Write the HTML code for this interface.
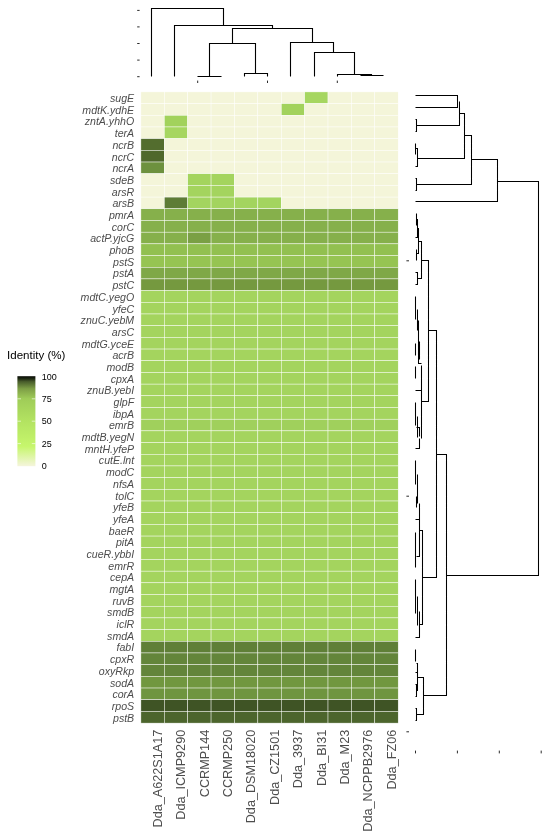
<!DOCTYPE html><html><head><meta charset="utf-8"><title>Heatmap</title><style>html,body{margin:0;padding:0;background:#fff}svg{display:block}text{font-family:"Liberation Sans",sans-serif}</style></head><body>
<svg width="550" height="837" viewBox="0 0 550 837">
<rect width="550" height="837" fill="#fff"/>
<g stroke="#fff" stroke-width="0.45">
<rect x="140.90" y="91.90" width="23.39" height="11.689" fill="#F4F5D9"/>
<rect x="164.29" y="91.90" width="23.39" height="11.689" fill="#F4F5D9"/>
<rect x="187.68" y="91.90" width="23.39" height="11.689" fill="#F4F5D9"/>
<rect x="211.07" y="91.90" width="23.39" height="11.689" fill="#F4F5D9"/>
<rect x="234.46" y="91.90" width="23.39" height="11.689" fill="#F4F5D9"/>
<rect x="257.85" y="91.90" width="23.39" height="11.689" fill="#F4F5D9"/>
<rect x="281.24" y="91.90" width="23.39" height="11.689" fill="#F4F5D9"/>
<rect x="304.63" y="91.90" width="23.39" height="11.689" fill="#A6D660"/>
<rect x="328.02" y="91.90" width="23.39" height="11.689" fill="#F4F5D9"/>
<rect x="351.41" y="91.90" width="23.39" height="11.689" fill="#F4F5D9"/>
<rect x="374.80" y="91.90" width="23.39" height="11.689" fill="#F4F5D9"/>
<rect x="140.90" y="103.59" width="23.39" height="11.689" fill="#F4F5D9"/>
<rect x="164.29" y="103.59" width="23.39" height="11.689" fill="#F4F5D9"/>
<rect x="187.68" y="103.59" width="23.39" height="11.689" fill="#F4F5D9"/>
<rect x="211.07" y="103.59" width="23.39" height="11.689" fill="#F4F5D9"/>
<rect x="234.46" y="103.59" width="23.39" height="11.689" fill="#F4F5D9"/>
<rect x="257.85" y="103.59" width="23.39" height="11.689" fill="#F4F5D9"/>
<rect x="281.24" y="103.59" width="23.39" height="11.689" fill="#A2D25C"/>
<rect x="304.63" y="103.59" width="23.39" height="11.689" fill="#F4F5D9"/>
<rect x="328.02" y="103.59" width="23.39" height="11.689" fill="#F4F5D9"/>
<rect x="351.41" y="103.59" width="23.39" height="11.689" fill="#F4F5D9"/>
<rect x="374.80" y="103.59" width="23.39" height="11.689" fill="#F4F5D9"/>
<rect x="140.90" y="115.28" width="23.39" height="11.689" fill="#F4F5D9"/>
<rect x="164.29" y="115.28" width="23.39" height="11.689" fill="#A2D25C"/>
<rect x="187.68" y="115.28" width="23.39" height="11.689" fill="#F4F5D9"/>
<rect x="211.07" y="115.28" width="23.39" height="11.689" fill="#F4F5D9"/>
<rect x="234.46" y="115.28" width="23.39" height="11.689" fill="#F4F5D9"/>
<rect x="257.85" y="115.28" width="23.39" height="11.689" fill="#F4F5D9"/>
<rect x="281.24" y="115.28" width="23.39" height="11.689" fill="#F4F5D9"/>
<rect x="304.63" y="115.28" width="23.39" height="11.689" fill="#F4F5D9"/>
<rect x="328.02" y="115.28" width="23.39" height="11.689" fill="#F4F5D9"/>
<rect x="351.41" y="115.28" width="23.39" height="11.689" fill="#F4F5D9"/>
<rect x="374.80" y="115.28" width="23.39" height="11.689" fill="#F4F5D9"/>
<rect x="140.90" y="126.97" width="23.39" height="11.689" fill="#F4F5D9"/>
<rect x="164.29" y="126.97" width="23.39" height="11.689" fill="#A6D660"/>
<rect x="187.68" y="126.97" width="23.39" height="11.689" fill="#F4F5D9"/>
<rect x="211.07" y="126.97" width="23.39" height="11.689" fill="#F4F5D9"/>
<rect x="234.46" y="126.97" width="23.39" height="11.689" fill="#F4F5D9"/>
<rect x="257.85" y="126.97" width="23.39" height="11.689" fill="#F4F5D9"/>
<rect x="281.24" y="126.97" width="23.39" height="11.689" fill="#F4F5D9"/>
<rect x="304.63" y="126.97" width="23.39" height="11.689" fill="#F4F5D9"/>
<rect x="328.02" y="126.97" width="23.39" height="11.689" fill="#F4F5D9"/>
<rect x="351.41" y="126.97" width="23.39" height="11.689" fill="#F4F5D9"/>
<rect x="374.80" y="126.97" width="23.39" height="11.689" fill="#F4F5D9"/>
<rect x="140.90" y="138.66" width="23.39" height="11.689" fill="#536D2E"/>
<rect x="164.29" y="138.66" width="23.39" height="11.689" fill="#F4F5D9"/>
<rect x="187.68" y="138.66" width="23.39" height="11.689" fill="#F4F5D9"/>
<rect x="211.07" y="138.66" width="23.39" height="11.689" fill="#F4F5D9"/>
<rect x="234.46" y="138.66" width="23.39" height="11.689" fill="#F4F5D9"/>
<rect x="257.85" y="138.66" width="23.39" height="11.689" fill="#F4F5D9"/>
<rect x="281.24" y="138.66" width="23.39" height="11.689" fill="#F4F5D9"/>
<rect x="304.63" y="138.66" width="23.39" height="11.689" fill="#F4F5D9"/>
<rect x="328.02" y="138.66" width="23.39" height="11.689" fill="#F4F5D9"/>
<rect x="351.41" y="138.66" width="23.39" height="11.689" fill="#F4F5D9"/>
<rect x="374.80" y="138.66" width="23.39" height="11.689" fill="#F4F5D9"/>
<rect x="140.90" y="150.34" width="23.39" height="11.689" fill="#4F682B"/>
<rect x="164.29" y="150.34" width="23.39" height="11.689" fill="#F4F5D9"/>
<rect x="187.68" y="150.34" width="23.39" height="11.689" fill="#F4F5D9"/>
<rect x="211.07" y="150.34" width="23.39" height="11.689" fill="#F4F5D9"/>
<rect x="234.46" y="150.34" width="23.39" height="11.689" fill="#F4F5D9"/>
<rect x="257.85" y="150.34" width="23.39" height="11.689" fill="#F4F5D9"/>
<rect x="281.24" y="150.34" width="23.39" height="11.689" fill="#F4F5D9"/>
<rect x="304.63" y="150.34" width="23.39" height="11.689" fill="#F4F5D9"/>
<rect x="328.02" y="150.34" width="23.39" height="11.689" fill="#F4F5D9"/>
<rect x="351.41" y="150.34" width="23.39" height="11.689" fill="#F4F5D9"/>
<rect x="374.80" y="150.34" width="23.39" height="11.689" fill="#F4F5D9"/>
<rect x="140.90" y="162.03" width="23.39" height="11.689" fill="#6D913E"/>
<rect x="164.29" y="162.03" width="23.39" height="11.689" fill="#F4F5D9"/>
<rect x="187.68" y="162.03" width="23.39" height="11.689" fill="#F4F5D9"/>
<rect x="211.07" y="162.03" width="23.39" height="11.689" fill="#F4F5D9"/>
<rect x="234.46" y="162.03" width="23.39" height="11.689" fill="#F4F5D9"/>
<rect x="257.85" y="162.03" width="23.39" height="11.689" fill="#F4F5D9"/>
<rect x="281.24" y="162.03" width="23.39" height="11.689" fill="#F4F5D9"/>
<rect x="304.63" y="162.03" width="23.39" height="11.689" fill="#F4F5D9"/>
<rect x="328.02" y="162.03" width="23.39" height="11.689" fill="#F4F5D9"/>
<rect x="351.41" y="162.03" width="23.39" height="11.689" fill="#F4F5D9"/>
<rect x="374.80" y="162.03" width="23.39" height="11.689" fill="#F4F5D9"/>
<rect x="140.90" y="173.72" width="23.39" height="11.689" fill="#F4F5D9"/>
<rect x="164.29" y="173.72" width="23.39" height="11.689" fill="#F4F5D9"/>
<rect x="187.68" y="173.72" width="23.39" height="11.689" fill="#A4D45E"/>
<rect x="211.07" y="173.72" width="23.39" height="11.689" fill="#A4D45E"/>
<rect x="234.46" y="173.72" width="23.39" height="11.689" fill="#F4F5D9"/>
<rect x="257.85" y="173.72" width="23.39" height="11.689" fill="#F4F5D9"/>
<rect x="281.24" y="173.72" width="23.39" height="11.689" fill="#F4F5D9"/>
<rect x="304.63" y="173.72" width="23.39" height="11.689" fill="#F4F5D9"/>
<rect x="328.02" y="173.72" width="23.39" height="11.689" fill="#F4F5D9"/>
<rect x="351.41" y="173.72" width="23.39" height="11.689" fill="#F4F5D9"/>
<rect x="374.80" y="173.72" width="23.39" height="11.689" fill="#F4F5D9"/>
<rect x="140.90" y="185.41" width="23.39" height="11.689" fill="#F4F5D9"/>
<rect x="164.29" y="185.41" width="23.39" height="11.689" fill="#F4F5D9"/>
<rect x="187.68" y="185.41" width="23.39" height="11.689" fill="#A4D45E"/>
<rect x="211.07" y="185.41" width="23.39" height="11.689" fill="#A4D45E"/>
<rect x="234.46" y="185.41" width="23.39" height="11.689" fill="#F4F5D9"/>
<rect x="257.85" y="185.41" width="23.39" height="11.689" fill="#F4F5D9"/>
<rect x="281.24" y="185.41" width="23.39" height="11.689" fill="#F4F5D9"/>
<rect x="304.63" y="185.41" width="23.39" height="11.689" fill="#F4F5D9"/>
<rect x="328.02" y="185.41" width="23.39" height="11.689" fill="#F4F5D9"/>
<rect x="351.41" y="185.41" width="23.39" height="11.689" fill="#F4F5D9"/>
<rect x="374.80" y="185.41" width="23.39" height="11.689" fill="#F4F5D9"/>
<rect x="140.90" y="197.10" width="23.39" height="11.689" fill="#F4F5D9"/>
<rect x="164.29" y="197.10" width="23.39" height="11.689" fill="#5E7C36"/>
<rect x="187.68" y="197.10" width="23.39" height="11.689" fill="#A3D45F"/>
<rect x="211.07" y="197.10" width="23.39" height="11.689" fill="#A3D45F"/>
<rect x="234.46" y="197.10" width="23.39" height="11.689" fill="#A3D45F"/>
<rect x="257.85" y="197.10" width="23.39" height="11.689" fill="#A3D45F"/>
<rect x="281.24" y="197.10" width="23.39" height="11.689" fill="#F4F5D9"/>
<rect x="304.63" y="197.10" width="23.39" height="11.689" fill="#F4F5D9"/>
<rect x="328.02" y="197.10" width="23.39" height="11.689" fill="#F4F5D9"/>
<rect x="351.41" y="197.10" width="23.39" height="11.689" fill="#F4F5D9"/>
<rect x="374.80" y="197.10" width="23.39" height="11.689" fill="#F4F5D9"/>
<rect x="140.90" y="208.79" width="23.39" height="11.689" fill="#86B04B"/>
<rect x="164.29" y="208.79" width="23.39" height="11.689" fill="#86B04B"/>
<rect x="187.68" y="208.79" width="23.39" height="11.689" fill="#86B04B"/>
<rect x="211.07" y="208.79" width="23.39" height="11.689" fill="#86B04B"/>
<rect x="234.46" y="208.79" width="23.39" height="11.689" fill="#86B04B"/>
<rect x="257.85" y="208.79" width="23.39" height="11.689" fill="#86B04B"/>
<rect x="281.24" y="208.79" width="23.39" height="11.689" fill="#86B04B"/>
<rect x="304.63" y="208.79" width="23.39" height="11.689" fill="#86B04B"/>
<rect x="328.02" y="208.79" width="23.39" height="11.689" fill="#86B04B"/>
<rect x="351.41" y="208.79" width="23.39" height="11.689" fill="#86B04B"/>
<rect x="374.80" y="208.79" width="23.39" height="11.689" fill="#86B04B"/>
<rect x="140.90" y="220.48" width="23.39" height="11.689" fill="#86B04B"/>
<rect x="164.29" y="220.48" width="23.39" height="11.689" fill="#86B04B"/>
<rect x="187.68" y="220.48" width="23.39" height="11.689" fill="#86B04B"/>
<rect x="211.07" y="220.48" width="23.39" height="11.689" fill="#86B04B"/>
<rect x="234.46" y="220.48" width="23.39" height="11.689" fill="#86B04B"/>
<rect x="257.85" y="220.48" width="23.39" height="11.689" fill="#86B04B"/>
<rect x="281.24" y="220.48" width="23.39" height="11.689" fill="#86B04B"/>
<rect x="304.63" y="220.48" width="23.39" height="11.689" fill="#86B04B"/>
<rect x="328.02" y="220.48" width="23.39" height="11.689" fill="#86B04B"/>
<rect x="351.41" y="220.48" width="23.39" height="11.689" fill="#86B04B"/>
<rect x="374.80" y="220.48" width="23.39" height="11.689" fill="#86B04B"/>
<rect x="140.90" y="232.17" width="23.39" height="11.689" fill="#86B04B"/>
<rect x="164.29" y="232.17" width="23.39" height="11.689" fill="#86B04B"/>
<rect x="187.68" y="232.17" width="23.39" height="11.689" fill="#7AA044"/>
<rect x="211.07" y="232.17" width="23.39" height="11.689" fill="#86B04B"/>
<rect x="234.46" y="232.17" width="23.39" height="11.689" fill="#86B04B"/>
<rect x="257.85" y="232.17" width="23.39" height="11.689" fill="#86B04B"/>
<rect x="281.24" y="232.17" width="23.39" height="11.689" fill="#86B04B"/>
<rect x="304.63" y="232.17" width="23.39" height="11.689" fill="#86B04B"/>
<rect x="328.02" y="232.17" width="23.39" height="11.689" fill="#86B04B"/>
<rect x="351.41" y="232.17" width="23.39" height="11.689" fill="#86B04B"/>
<rect x="374.80" y="232.17" width="23.39" height="11.689" fill="#86B04B"/>
<rect x="140.90" y="243.86" width="23.39" height="11.689" fill="#92C050"/>
<rect x="164.29" y="243.86" width="23.39" height="11.689" fill="#92C050"/>
<rect x="187.68" y="243.86" width="23.39" height="11.689" fill="#92C050"/>
<rect x="211.07" y="243.86" width="23.39" height="11.689" fill="#92C050"/>
<rect x="234.46" y="243.86" width="23.39" height="11.689" fill="#92C050"/>
<rect x="257.85" y="243.86" width="23.39" height="11.689" fill="#92C050"/>
<rect x="281.24" y="243.86" width="23.39" height="11.689" fill="#92C050"/>
<rect x="304.63" y="243.86" width="23.39" height="11.689" fill="#92C050"/>
<rect x="328.02" y="243.86" width="23.39" height="11.689" fill="#92C050"/>
<rect x="351.41" y="243.86" width="23.39" height="11.689" fill="#92C050"/>
<rect x="374.80" y="243.86" width="23.39" height="11.689" fill="#92C050"/>
<rect x="140.90" y="255.55" width="23.39" height="11.689" fill="#96C452"/>
<rect x="164.29" y="255.55" width="23.39" height="11.689" fill="#96C452"/>
<rect x="187.68" y="255.55" width="23.39" height="11.689" fill="#96C452"/>
<rect x="211.07" y="255.55" width="23.39" height="11.689" fill="#96C452"/>
<rect x="234.46" y="255.55" width="23.39" height="11.689" fill="#96C452"/>
<rect x="257.85" y="255.55" width="23.39" height="11.689" fill="#96C452"/>
<rect x="281.24" y="255.55" width="23.39" height="11.689" fill="#96C452"/>
<rect x="304.63" y="255.55" width="23.39" height="11.689" fill="#96C452"/>
<rect x="328.02" y="255.55" width="23.39" height="11.689" fill="#96C452"/>
<rect x="351.41" y="255.55" width="23.39" height="11.689" fill="#96C452"/>
<rect x="374.80" y="255.55" width="23.39" height="11.689" fill="#96C452"/>
<rect x="140.90" y="267.24" width="23.39" height="11.689" fill="#7FA847"/>
<rect x="164.29" y="267.24" width="23.39" height="11.689" fill="#7FA847"/>
<rect x="187.68" y="267.24" width="23.39" height="11.689" fill="#7FA847"/>
<rect x="211.07" y="267.24" width="23.39" height="11.689" fill="#7FA847"/>
<rect x="234.46" y="267.24" width="23.39" height="11.689" fill="#7FA847"/>
<rect x="257.85" y="267.24" width="23.39" height="11.689" fill="#7FA847"/>
<rect x="281.24" y="267.24" width="23.39" height="11.689" fill="#7FA847"/>
<rect x="304.63" y="267.24" width="23.39" height="11.689" fill="#7FA847"/>
<rect x="328.02" y="267.24" width="23.39" height="11.689" fill="#7FA847"/>
<rect x="351.41" y="267.24" width="23.39" height="11.689" fill="#7FA847"/>
<rect x="374.80" y="267.24" width="23.39" height="11.689" fill="#7FA847"/>
<rect x="140.90" y="278.92" width="23.39" height="11.689" fill="#75993F"/>
<rect x="164.29" y="278.92" width="23.39" height="11.689" fill="#75993F"/>
<rect x="187.68" y="278.92" width="23.39" height="11.689" fill="#75993F"/>
<rect x="211.07" y="278.92" width="23.39" height="11.689" fill="#75993F"/>
<rect x="234.46" y="278.92" width="23.39" height="11.689" fill="#75993F"/>
<rect x="257.85" y="278.92" width="23.39" height="11.689" fill="#75993F"/>
<rect x="281.24" y="278.92" width="23.39" height="11.689" fill="#75993F"/>
<rect x="304.63" y="278.92" width="23.39" height="11.689" fill="#75993F"/>
<rect x="328.02" y="278.92" width="23.39" height="11.689" fill="#75993F"/>
<rect x="351.41" y="278.92" width="23.39" height="11.689" fill="#75993F"/>
<rect x="374.80" y="278.92" width="23.39" height="11.689" fill="#75993F"/>
<rect x="140.90" y="290.61" width="23.39" height="11.689" fill="#A4D45E"/>
<rect x="164.29" y="290.61" width="23.39" height="11.689" fill="#A4D45E"/>
<rect x="187.68" y="290.61" width="23.39" height="11.689" fill="#A4D45E"/>
<rect x="211.07" y="290.61" width="23.39" height="11.689" fill="#A4D45E"/>
<rect x="234.46" y="290.61" width="23.39" height="11.689" fill="#A4D45E"/>
<rect x="257.85" y="290.61" width="23.39" height="11.689" fill="#A4D45E"/>
<rect x="281.24" y="290.61" width="23.39" height="11.689" fill="#A4D45E"/>
<rect x="304.63" y="290.61" width="23.39" height="11.689" fill="#A4D45E"/>
<rect x="328.02" y="290.61" width="23.39" height="11.689" fill="#A4D45E"/>
<rect x="351.41" y="290.61" width="23.39" height="11.689" fill="#A4D45E"/>
<rect x="374.80" y="290.61" width="23.39" height="11.689" fill="#A4D45E"/>
<rect x="140.90" y="302.30" width="23.39" height="11.689" fill="#A4D45E"/>
<rect x="164.29" y="302.30" width="23.39" height="11.689" fill="#A4D45E"/>
<rect x="187.68" y="302.30" width="23.39" height="11.689" fill="#A4D45E"/>
<rect x="211.07" y="302.30" width="23.39" height="11.689" fill="#A4D45E"/>
<rect x="234.46" y="302.30" width="23.39" height="11.689" fill="#A4D45E"/>
<rect x="257.85" y="302.30" width="23.39" height="11.689" fill="#A4D45E"/>
<rect x="281.24" y="302.30" width="23.39" height="11.689" fill="#A4D45E"/>
<rect x="304.63" y="302.30" width="23.39" height="11.689" fill="#A4D45E"/>
<rect x="328.02" y="302.30" width="23.39" height="11.689" fill="#A4D45E"/>
<rect x="351.41" y="302.30" width="23.39" height="11.689" fill="#A4D45E"/>
<rect x="374.80" y="302.30" width="23.39" height="11.689" fill="#A4D45E"/>
<rect x="140.90" y="313.99" width="23.39" height="11.689" fill="#A4D45E"/>
<rect x="164.29" y="313.99" width="23.39" height="11.689" fill="#A4D45E"/>
<rect x="187.68" y="313.99" width="23.39" height="11.689" fill="#A4D45E"/>
<rect x="211.07" y="313.99" width="23.39" height="11.689" fill="#A4D45E"/>
<rect x="234.46" y="313.99" width="23.39" height="11.689" fill="#A4D45E"/>
<rect x="257.85" y="313.99" width="23.39" height="11.689" fill="#A4D45E"/>
<rect x="281.24" y="313.99" width="23.39" height="11.689" fill="#A4D45E"/>
<rect x="304.63" y="313.99" width="23.39" height="11.689" fill="#A4D45E"/>
<rect x="328.02" y="313.99" width="23.39" height="11.689" fill="#A4D45E"/>
<rect x="351.41" y="313.99" width="23.39" height="11.689" fill="#A4D45E"/>
<rect x="374.80" y="313.99" width="23.39" height="11.689" fill="#A4D45E"/>
<rect x="140.90" y="325.68" width="23.39" height="11.689" fill="#A4D45E"/>
<rect x="164.29" y="325.68" width="23.39" height="11.689" fill="#A4D45E"/>
<rect x="187.68" y="325.68" width="23.39" height="11.689" fill="#A4D45E"/>
<rect x="211.07" y="325.68" width="23.39" height="11.689" fill="#A4D45E"/>
<rect x="234.46" y="325.68" width="23.39" height="11.689" fill="#A4D45E"/>
<rect x="257.85" y="325.68" width="23.39" height="11.689" fill="#A4D45E"/>
<rect x="281.24" y="325.68" width="23.39" height="11.689" fill="#A4D45E"/>
<rect x="304.63" y="325.68" width="23.39" height="11.689" fill="#A4D45E"/>
<rect x="328.02" y="325.68" width="23.39" height="11.689" fill="#A4D45E"/>
<rect x="351.41" y="325.68" width="23.39" height="11.689" fill="#A4D45E"/>
<rect x="374.80" y="325.68" width="23.39" height="11.689" fill="#A4D45E"/>
<rect x="140.90" y="337.37" width="23.39" height="11.689" fill="#A4D45E"/>
<rect x="164.29" y="337.37" width="23.39" height="11.689" fill="#A4D45E"/>
<rect x="187.68" y="337.37" width="23.39" height="11.689" fill="#A4D45E"/>
<rect x="211.07" y="337.37" width="23.39" height="11.689" fill="#A4D45E"/>
<rect x="234.46" y="337.37" width="23.39" height="11.689" fill="#A4D45E"/>
<rect x="257.85" y="337.37" width="23.39" height="11.689" fill="#A4D45E"/>
<rect x="281.24" y="337.37" width="23.39" height="11.689" fill="#A4D45E"/>
<rect x="304.63" y="337.37" width="23.39" height="11.689" fill="#A4D45E"/>
<rect x="328.02" y="337.37" width="23.39" height="11.689" fill="#A4D45E"/>
<rect x="351.41" y="337.37" width="23.39" height="11.689" fill="#A4D45E"/>
<rect x="374.80" y="337.37" width="23.39" height="11.689" fill="#A4D45E"/>
<rect x="140.90" y="349.06" width="23.39" height="11.689" fill="#A4D45E"/>
<rect x="164.29" y="349.06" width="23.39" height="11.689" fill="#A4D45E"/>
<rect x="187.68" y="349.06" width="23.39" height="11.689" fill="#A4D45E"/>
<rect x="211.07" y="349.06" width="23.39" height="11.689" fill="#A4D45E"/>
<rect x="234.46" y="349.06" width="23.39" height="11.689" fill="#A4D45E"/>
<rect x="257.85" y="349.06" width="23.39" height="11.689" fill="#A4D45E"/>
<rect x="281.24" y="349.06" width="23.39" height="11.689" fill="#A4D45E"/>
<rect x="304.63" y="349.06" width="23.39" height="11.689" fill="#A4D45E"/>
<rect x="328.02" y="349.06" width="23.39" height="11.689" fill="#A4D45E"/>
<rect x="351.41" y="349.06" width="23.39" height="11.689" fill="#A4D45E"/>
<rect x="374.80" y="349.06" width="23.39" height="11.689" fill="#A4D45E"/>
<rect x="140.90" y="360.75" width="23.39" height="11.689" fill="#A4D45E"/>
<rect x="164.29" y="360.75" width="23.39" height="11.689" fill="#A4D45E"/>
<rect x="187.68" y="360.75" width="23.39" height="11.689" fill="#A4D45E"/>
<rect x="211.07" y="360.75" width="23.39" height="11.689" fill="#A4D45E"/>
<rect x="234.46" y="360.75" width="23.39" height="11.689" fill="#A4D45E"/>
<rect x="257.85" y="360.75" width="23.39" height="11.689" fill="#A4D45E"/>
<rect x="281.24" y="360.75" width="23.39" height="11.689" fill="#A4D45E"/>
<rect x="304.63" y="360.75" width="23.39" height="11.689" fill="#A4D45E"/>
<rect x="328.02" y="360.75" width="23.39" height="11.689" fill="#A4D45E"/>
<rect x="351.41" y="360.75" width="23.39" height="11.689" fill="#A4D45E"/>
<rect x="374.80" y="360.75" width="23.39" height="11.689" fill="#A4D45E"/>
<rect x="140.90" y="372.44" width="23.39" height="11.689" fill="#A4D45E"/>
<rect x="164.29" y="372.44" width="23.39" height="11.689" fill="#A4D45E"/>
<rect x="187.68" y="372.44" width="23.39" height="11.689" fill="#A4D45E"/>
<rect x="211.07" y="372.44" width="23.39" height="11.689" fill="#A4D45E"/>
<rect x="234.46" y="372.44" width="23.39" height="11.689" fill="#A4D45E"/>
<rect x="257.85" y="372.44" width="23.39" height="11.689" fill="#A4D45E"/>
<rect x="281.24" y="372.44" width="23.39" height="11.689" fill="#A4D45E"/>
<rect x="304.63" y="372.44" width="23.39" height="11.689" fill="#A4D45E"/>
<rect x="328.02" y="372.44" width="23.39" height="11.689" fill="#A4D45E"/>
<rect x="351.41" y="372.44" width="23.39" height="11.689" fill="#A4D45E"/>
<rect x="374.80" y="372.44" width="23.39" height="11.689" fill="#A4D45E"/>
<rect x="140.90" y="384.12" width="23.39" height="11.689" fill="#A4D45E"/>
<rect x="164.29" y="384.12" width="23.39" height="11.689" fill="#A4D45E"/>
<rect x="187.68" y="384.12" width="23.39" height="11.689" fill="#A4D45E"/>
<rect x="211.07" y="384.12" width="23.39" height="11.689" fill="#A4D45E"/>
<rect x="234.46" y="384.12" width="23.39" height="11.689" fill="#A4D45E"/>
<rect x="257.85" y="384.12" width="23.39" height="11.689" fill="#A4D45E"/>
<rect x="281.24" y="384.12" width="23.39" height="11.689" fill="#A4D45E"/>
<rect x="304.63" y="384.12" width="23.39" height="11.689" fill="#A4D45E"/>
<rect x="328.02" y="384.12" width="23.39" height="11.689" fill="#A4D45E"/>
<rect x="351.41" y="384.12" width="23.39" height="11.689" fill="#A4D45E"/>
<rect x="374.80" y="384.12" width="23.39" height="11.689" fill="#A4D45E"/>
<rect x="140.90" y="395.81" width="23.39" height="11.689" fill="#A4D45E"/>
<rect x="164.29" y="395.81" width="23.39" height="11.689" fill="#A4D45E"/>
<rect x="187.68" y="395.81" width="23.39" height="11.689" fill="#A4D45E"/>
<rect x="211.07" y="395.81" width="23.39" height="11.689" fill="#A4D45E"/>
<rect x="234.46" y="395.81" width="23.39" height="11.689" fill="#A4D45E"/>
<rect x="257.85" y="395.81" width="23.39" height="11.689" fill="#A4D45E"/>
<rect x="281.24" y="395.81" width="23.39" height="11.689" fill="#A4D45E"/>
<rect x="304.63" y="395.81" width="23.39" height="11.689" fill="#A4D45E"/>
<rect x="328.02" y="395.81" width="23.39" height="11.689" fill="#A4D45E"/>
<rect x="351.41" y="395.81" width="23.39" height="11.689" fill="#A4D45E"/>
<rect x="374.80" y="395.81" width="23.39" height="11.689" fill="#A4D45E"/>
<rect x="140.90" y="407.50" width="23.39" height="11.689" fill="#A4D45E"/>
<rect x="164.29" y="407.50" width="23.39" height="11.689" fill="#A4D45E"/>
<rect x="187.68" y="407.50" width="23.39" height="11.689" fill="#A4D45E"/>
<rect x="211.07" y="407.50" width="23.39" height="11.689" fill="#A4D45E"/>
<rect x="234.46" y="407.50" width="23.39" height="11.689" fill="#A4D45E"/>
<rect x="257.85" y="407.50" width="23.39" height="11.689" fill="#A4D45E"/>
<rect x="281.24" y="407.50" width="23.39" height="11.689" fill="#A4D45E"/>
<rect x="304.63" y="407.50" width="23.39" height="11.689" fill="#A4D45E"/>
<rect x="328.02" y="407.50" width="23.39" height="11.689" fill="#A4D45E"/>
<rect x="351.41" y="407.50" width="23.39" height="11.689" fill="#A4D45E"/>
<rect x="374.80" y="407.50" width="23.39" height="11.689" fill="#A4D45E"/>
<rect x="140.90" y="419.19" width="23.39" height="11.689" fill="#A0D05C"/>
<rect x="164.29" y="419.19" width="23.39" height="11.689" fill="#A0D05C"/>
<rect x="187.68" y="419.19" width="23.39" height="11.689" fill="#A0D05C"/>
<rect x="211.07" y="419.19" width="23.39" height="11.689" fill="#A0D05C"/>
<rect x="234.46" y="419.19" width="23.39" height="11.689" fill="#A0D05C"/>
<rect x="257.85" y="419.19" width="23.39" height="11.689" fill="#A0D05C"/>
<rect x="281.24" y="419.19" width="23.39" height="11.689" fill="#A0D05C"/>
<rect x="304.63" y="419.19" width="23.39" height="11.689" fill="#A0D05C"/>
<rect x="328.02" y="419.19" width="23.39" height="11.689" fill="#A0D05C"/>
<rect x="351.41" y="419.19" width="23.39" height="11.689" fill="#A0D05C"/>
<rect x="374.80" y="419.19" width="23.39" height="11.689" fill="#A0D05C"/>
<rect x="140.90" y="430.88" width="23.39" height="11.689" fill="#A4D45E"/>
<rect x="164.29" y="430.88" width="23.39" height="11.689" fill="#A4D45E"/>
<rect x="187.68" y="430.88" width="23.39" height="11.689" fill="#A4D45E"/>
<rect x="211.07" y="430.88" width="23.39" height="11.689" fill="#A4D45E"/>
<rect x="234.46" y="430.88" width="23.39" height="11.689" fill="#A4D45E"/>
<rect x="257.85" y="430.88" width="23.39" height="11.689" fill="#A4D45E"/>
<rect x="281.24" y="430.88" width="23.39" height="11.689" fill="#A4D45E"/>
<rect x="304.63" y="430.88" width="23.39" height="11.689" fill="#A4D45E"/>
<rect x="328.02" y="430.88" width="23.39" height="11.689" fill="#A4D45E"/>
<rect x="351.41" y="430.88" width="23.39" height="11.689" fill="#A4D45E"/>
<rect x="374.80" y="430.88" width="23.39" height="11.689" fill="#A4D45E"/>
<rect x="140.90" y="442.57" width="23.39" height="11.689" fill="#A4D45E"/>
<rect x="164.29" y="442.57" width="23.39" height="11.689" fill="#A4D45E"/>
<rect x="187.68" y="442.57" width="23.39" height="11.689" fill="#A4D45E"/>
<rect x="211.07" y="442.57" width="23.39" height="11.689" fill="#A4D45E"/>
<rect x="234.46" y="442.57" width="23.39" height="11.689" fill="#A4D45E"/>
<rect x="257.85" y="442.57" width="23.39" height="11.689" fill="#A4D45E"/>
<rect x="281.24" y="442.57" width="23.39" height="11.689" fill="#A4D45E"/>
<rect x="304.63" y="442.57" width="23.39" height="11.689" fill="#A4D45E"/>
<rect x="328.02" y="442.57" width="23.39" height="11.689" fill="#A4D45E"/>
<rect x="351.41" y="442.57" width="23.39" height="11.689" fill="#A4D45E"/>
<rect x="374.80" y="442.57" width="23.39" height="11.689" fill="#A4D45E"/>
<rect x="140.90" y="454.26" width="23.39" height="11.689" fill="#A4D45E"/>
<rect x="164.29" y="454.26" width="23.39" height="11.689" fill="#A4D45E"/>
<rect x="187.68" y="454.26" width="23.39" height="11.689" fill="#A4D45E"/>
<rect x="211.07" y="454.26" width="23.39" height="11.689" fill="#A4D45E"/>
<rect x="234.46" y="454.26" width="23.39" height="11.689" fill="#A4D45E"/>
<rect x="257.85" y="454.26" width="23.39" height="11.689" fill="#A4D45E"/>
<rect x="281.24" y="454.26" width="23.39" height="11.689" fill="#A4D45E"/>
<rect x="304.63" y="454.26" width="23.39" height="11.689" fill="#A4D45E"/>
<rect x="328.02" y="454.26" width="23.39" height="11.689" fill="#A4D45E"/>
<rect x="351.41" y="454.26" width="23.39" height="11.689" fill="#A4D45E"/>
<rect x="374.80" y="454.26" width="23.39" height="11.689" fill="#A4D45E"/>
<rect x="140.90" y="465.95" width="23.39" height="11.689" fill="#A4D45E"/>
<rect x="164.29" y="465.95" width="23.39" height="11.689" fill="#A4D45E"/>
<rect x="187.68" y="465.95" width="23.39" height="11.689" fill="#A4D45E"/>
<rect x="211.07" y="465.95" width="23.39" height="11.689" fill="#A4D45E"/>
<rect x="234.46" y="465.95" width="23.39" height="11.689" fill="#A4D45E"/>
<rect x="257.85" y="465.95" width="23.39" height="11.689" fill="#A4D45E"/>
<rect x="281.24" y="465.95" width="23.39" height="11.689" fill="#A4D45E"/>
<rect x="304.63" y="465.95" width="23.39" height="11.689" fill="#A4D45E"/>
<rect x="328.02" y="465.95" width="23.39" height="11.689" fill="#A4D45E"/>
<rect x="351.41" y="465.95" width="23.39" height="11.689" fill="#A4D45E"/>
<rect x="374.80" y="465.95" width="23.39" height="11.689" fill="#A4D45E"/>
<rect x="140.90" y="477.64" width="23.39" height="11.689" fill="#A4D45E"/>
<rect x="164.29" y="477.64" width="23.39" height="11.689" fill="#A4D45E"/>
<rect x="187.68" y="477.64" width="23.39" height="11.689" fill="#A4D45E"/>
<rect x="211.07" y="477.64" width="23.39" height="11.689" fill="#A4D45E"/>
<rect x="234.46" y="477.64" width="23.39" height="11.689" fill="#A4D45E"/>
<rect x="257.85" y="477.64" width="23.39" height="11.689" fill="#A4D45E"/>
<rect x="281.24" y="477.64" width="23.39" height="11.689" fill="#A4D45E"/>
<rect x="304.63" y="477.64" width="23.39" height="11.689" fill="#A4D45E"/>
<rect x="328.02" y="477.64" width="23.39" height="11.689" fill="#A4D45E"/>
<rect x="351.41" y="477.64" width="23.39" height="11.689" fill="#A4D45E"/>
<rect x="374.80" y="477.64" width="23.39" height="11.689" fill="#A4D45E"/>
<rect x="140.90" y="489.33" width="23.39" height="11.689" fill="#A4D45E"/>
<rect x="164.29" y="489.33" width="23.39" height="11.689" fill="#A4D45E"/>
<rect x="187.68" y="489.33" width="23.39" height="11.689" fill="#A4D45E"/>
<rect x="211.07" y="489.33" width="23.39" height="11.689" fill="#A4D45E"/>
<rect x="234.46" y="489.33" width="23.39" height="11.689" fill="#A4D45E"/>
<rect x="257.85" y="489.33" width="23.39" height="11.689" fill="#A4D45E"/>
<rect x="281.24" y="489.33" width="23.39" height="11.689" fill="#A4D45E"/>
<rect x="304.63" y="489.33" width="23.39" height="11.689" fill="#A4D45E"/>
<rect x="328.02" y="489.33" width="23.39" height="11.689" fill="#A4D45E"/>
<rect x="351.41" y="489.33" width="23.39" height="11.689" fill="#A4D45E"/>
<rect x="374.80" y="489.33" width="23.39" height="11.689" fill="#A4D45E"/>
<rect x="140.90" y="501.01" width="23.39" height="11.689" fill="#A4D45E"/>
<rect x="164.29" y="501.01" width="23.39" height="11.689" fill="#A4D45E"/>
<rect x="187.68" y="501.01" width="23.39" height="11.689" fill="#A4D45E"/>
<rect x="211.07" y="501.01" width="23.39" height="11.689" fill="#A4D45E"/>
<rect x="234.46" y="501.01" width="23.39" height="11.689" fill="#A4D45E"/>
<rect x="257.85" y="501.01" width="23.39" height="11.689" fill="#A4D45E"/>
<rect x="281.24" y="501.01" width="23.39" height="11.689" fill="#A4D45E"/>
<rect x="304.63" y="501.01" width="23.39" height="11.689" fill="#A4D45E"/>
<rect x="328.02" y="501.01" width="23.39" height="11.689" fill="#A4D45E"/>
<rect x="351.41" y="501.01" width="23.39" height="11.689" fill="#A4D45E"/>
<rect x="374.80" y="501.01" width="23.39" height="11.689" fill="#A4D45E"/>
<rect x="140.90" y="512.70" width="23.39" height="11.689" fill="#A4D45E"/>
<rect x="164.29" y="512.70" width="23.39" height="11.689" fill="#A4D45E"/>
<rect x="187.68" y="512.70" width="23.39" height="11.689" fill="#A4D45E"/>
<rect x="211.07" y="512.70" width="23.39" height="11.689" fill="#A4D45E"/>
<rect x="234.46" y="512.70" width="23.39" height="11.689" fill="#A4D45E"/>
<rect x="257.85" y="512.70" width="23.39" height="11.689" fill="#A4D45E"/>
<rect x="281.24" y="512.70" width="23.39" height="11.689" fill="#A4D45E"/>
<rect x="304.63" y="512.70" width="23.39" height="11.689" fill="#A4D45E"/>
<rect x="328.02" y="512.70" width="23.39" height="11.689" fill="#A4D45E"/>
<rect x="351.41" y="512.70" width="23.39" height="11.689" fill="#A4D45E"/>
<rect x="374.80" y="512.70" width="23.39" height="11.689" fill="#A4D45E"/>
<rect x="140.90" y="524.39" width="23.39" height="11.689" fill="#A4D45E"/>
<rect x="164.29" y="524.39" width="23.39" height="11.689" fill="#A4D45E"/>
<rect x="187.68" y="524.39" width="23.39" height="11.689" fill="#A4D45E"/>
<rect x="211.07" y="524.39" width="23.39" height="11.689" fill="#A4D45E"/>
<rect x="234.46" y="524.39" width="23.39" height="11.689" fill="#A4D45E"/>
<rect x="257.85" y="524.39" width="23.39" height="11.689" fill="#A4D45E"/>
<rect x="281.24" y="524.39" width="23.39" height="11.689" fill="#A4D45E"/>
<rect x="304.63" y="524.39" width="23.39" height="11.689" fill="#A4D45E"/>
<rect x="328.02" y="524.39" width="23.39" height="11.689" fill="#A4D45E"/>
<rect x="351.41" y="524.39" width="23.39" height="11.689" fill="#A4D45E"/>
<rect x="374.80" y="524.39" width="23.39" height="11.689" fill="#A4D45E"/>
<rect x="140.90" y="536.08" width="23.39" height="11.689" fill="#A4D45E"/>
<rect x="164.29" y="536.08" width="23.39" height="11.689" fill="#A4D45E"/>
<rect x="187.68" y="536.08" width="23.39" height="11.689" fill="#A4D45E"/>
<rect x="211.07" y="536.08" width="23.39" height="11.689" fill="#A4D45E"/>
<rect x="234.46" y="536.08" width="23.39" height="11.689" fill="#A4D45E"/>
<rect x="257.85" y="536.08" width="23.39" height="11.689" fill="#A4D45E"/>
<rect x="281.24" y="536.08" width="23.39" height="11.689" fill="#A4D45E"/>
<rect x="304.63" y="536.08" width="23.39" height="11.689" fill="#A4D45E"/>
<rect x="328.02" y="536.08" width="23.39" height="11.689" fill="#A4D45E"/>
<rect x="351.41" y="536.08" width="23.39" height="11.689" fill="#A4D45E"/>
<rect x="374.80" y="536.08" width="23.39" height="11.689" fill="#A4D45E"/>
<rect x="140.90" y="547.77" width="23.39" height="11.689" fill="#A4D45E"/>
<rect x="164.29" y="547.77" width="23.39" height="11.689" fill="#A4D45E"/>
<rect x="187.68" y="547.77" width="23.39" height="11.689" fill="#A4D45E"/>
<rect x="211.07" y="547.77" width="23.39" height="11.689" fill="#A4D45E"/>
<rect x="234.46" y="547.77" width="23.39" height="11.689" fill="#A4D45E"/>
<rect x="257.85" y="547.77" width="23.39" height="11.689" fill="#A4D45E"/>
<rect x="281.24" y="547.77" width="23.39" height="11.689" fill="#A4D45E"/>
<rect x="304.63" y="547.77" width="23.39" height="11.689" fill="#A4D45E"/>
<rect x="328.02" y="547.77" width="23.39" height="11.689" fill="#A4D45E"/>
<rect x="351.41" y="547.77" width="23.39" height="11.689" fill="#A4D45E"/>
<rect x="374.80" y="547.77" width="23.39" height="11.689" fill="#A4D45E"/>
<rect x="140.90" y="559.46" width="23.39" height="11.689" fill="#A4D45E"/>
<rect x="164.29" y="559.46" width="23.39" height="11.689" fill="#A4D45E"/>
<rect x="187.68" y="559.46" width="23.39" height="11.689" fill="#A4D45E"/>
<rect x="211.07" y="559.46" width="23.39" height="11.689" fill="#A4D45E"/>
<rect x="234.46" y="559.46" width="23.39" height="11.689" fill="#A4D45E"/>
<rect x="257.85" y="559.46" width="23.39" height="11.689" fill="#A4D45E"/>
<rect x="281.24" y="559.46" width="23.39" height="11.689" fill="#A4D45E"/>
<rect x="304.63" y="559.46" width="23.39" height="11.689" fill="#A4D45E"/>
<rect x="328.02" y="559.46" width="23.39" height="11.689" fill="#A4D45E"/>
<rect x="351.41" y="559.46" width="23.39" height="11.689" fill="#A4D45E"/>
<rect x="374.80" y="559.46" width="23.39" height="11.689" fill="#A4D45E"/>
<rect x="140.90" y="571.15" width="23.39" height="11.689" fill="#A4D45E"/>
<rect x="164.29" y="571.15" width="23.39" height="11.689" fill="#A4D45E"/>
<rect x="187.68" y="571.15" width="23.39" height="11.689" fill="#A4D45E"/>
<rect x="211.07" y="571.15" width="23.39" height="11.689" fill="#A4D45E"/>
<rect x="234.46" y="571.15" width="23.39" height="11.689" fill="#A4D45E"/>
<rect x="257.85" y="571.15" width="23.39" height="11.689" fill="#A4D45E"/>
<rect x="281.24" y="571.15" width="23.39" height="11.689" fill="#A4D45E"/>
<rect x="304.63" y="571.15" width="23.39" height="11.689" fill="#A4D45E"/>
<rect x="328.02" y="571.15" width="23.39" height="11.689" fill="#A4D45E"/>
<rect x="351.41" y="571.15" width="23.39" height="11.689" fill="#A4D45E"/>
<rect x="374.80" y="571.15" width="23.39" height="11.689" fill="#A4D45E"/>
<rect x="140.90" y="582.84" width="23.39" height="11.689" fill="#A4D45E"/>
<rect x="164.29" y="582.84" width="23.39" height="11.689" fill="#A4D45E"/>
<rect x="187.68" y="582.84" width="23.39" height="11.689" fill="#A4D45E"/>
<rect x="211.07" y="582.84" width="23.39" height="11.689" fill="#A4D45E"/>
<rect x="234.46" y="582.84" width="23.39" height="11.689" fill="#A4D45E"/>
<rect x="257.85" y="582.84" width="23.39" height="11.689" fill="#A4D45E"/>
<rect x="281.24" y="582.84" width="23.39" height="11.689" fill="#A4D45E"/>
<rect x="304.63" y="582.84" width="23.39" height="11.689" fill="#A4D45E"/>
<rect x="328.02" y="582.84" width="23.39" height="11.689" fill="#A4D45E"/>
<rect x="351.41" y="582.84" width="23.39" height="11.689" fill="#A4D45E"/>
<rect x="374.80" y="582.84" width="23.39" height="11.689" fill="#A4D45E"/>
<rect x="140.90" y="594.53" width="23.39" height="11.689" fill="#A4D45E"/>
<rect x="164.29" y="594.53" width="23.39" height="11.689" fill="#A4D45E"/>
<rect x="187.68" y="594.53" width="23.39" height="11.689" fill="#A4D45E"/>
<rect x="211.07" y="594.53" width="23.39" height="11.689" fill="#A4D45E"/>
<rect x="234.46" y="594.53" width="23.39" height="11.689" fill="#A4D45E"/>
<rect x="257.85" y="594.53" width="23.39" height="11.689" fill="#A4D45E"/>
<rect x="281.24" y="594.53" width="23.39" height="11.689" fill="#A4D45E"/>
<rect x="304.63" y="594.53" width="23.39" height="11.689" fill="#A4D45E"/>
<rect x="328.02" y="594.53" width="23.39" height="11.689" fill="#A4D45E"/>
<rect x="351.41" y="594.53" width="23.39" height="11.689" fill="#A4D45E"/>
<rect x="374.80" y="594.53" width="23.39" height="11.689" fill="#A4D45E"/>
<rect x="140.90" y="606.22" width="23.39" height="11.689" fill="#A4D45E"/>
<rect x="164.29" y="606.22" width="23.39" height="11.689" fill="#A4D45E"/>
<rect x="187.68" y="606.22" width="23.39" height="11.689" fill="#A4D45E"/>
<rect x="211.07" y="606.22" width="23.39" height="11.689" fill="#A4D45E"/>
<rect x="234.46" y="606.22" width="23.39" height="11.689" fill="#A4D45E"/>
<rect x="257.85" y="606.22" width="23.39" height="11.689" fill="#A4D45E"/>
<rect x="281.24" y="606.22" width="23.39" height="11.689" fill="#A4D45E"/>
<rect x="304.63" y="606.22" width="23.39" height="11.689" fill="#A4D45E"/>
<rect x="328.02" y="606.22" width="23.39" height="11.689" fill="#A4D45E"/>
<rect x="351.41" y="606.22" width="23.39" height="11.689" fill="#A4D45E"/>
<rect x="374.80" y="606.22" width="23.39" height="11.689" fill="#A4D45E"/>
<rect x="140.90" y="617.90" width="23.39" height="11.689" fill="#A4D45E"/>
<rect x="164.29" y="617.90" width="23.39" height="11.689" fill="#A4D45E"/>
<rect x="187.68" y="617.90" width="23.39" height="11.689" fill="#A4D45E"/>
<rect x="211.07" y="617.90" width="23.39" height="11.689" fill="#A4D45E"/>
<rect x="234.46" y="617.90" width="23.39" height="11.689" fill="#A4D45E"/>
<rect x="257.85" y="617.90" width="23.39" height="11.689" fill="#A4D45E"/>
<rect x="281.24" y="617.90" width="23.39" height="11.689" fill="#A4D45E"/>
<rect x="304.63" y="617.90" width="23.39" height="11.689" fill="#A4D45E"/>
<rect x="328.02" y="617.90" width="23.39" height="11.689" fill="#A4D45E"/>
<rect x="351.41" y="617.90" width="23.39" height="11.689" fill="#A4D45E"/>
<rect x="374.80" y="617.90" width="23.39" height="11.689" fill="#A4D45E"/>
<rect x="140.90" y="629.59" width="23.39" height="11.689" fill="#A4D45E"/>
<rect x="164.29" y="629.59" width="23.39" height="11.689" fill="#A4D45E"/>
<rect x="187.68" y="629.59" width="23.39" height="11.689" fill="#A4D45E"/>
<rect x="211.07" y="629.59" width="23.39" height="11.689" fill="#A4D45E"/>
<rect x="234.46" y="629.59" width="23.39" height="11.689" fill="#A4D45E"/>
<rect x="257.85" y="629.59" width="23.39" height="11.689" fill="#A4D45E"/>
<rect x="281.24" y="629.59" width="23.39" height="11.689" fill="#A4D45E"/>
<rect x="304.63" y="629.59" width="23.39" height="11.689" fill="#A4D45E"/>
<rect x="328.02" y="629.59" width="23.39" height="11.689" fill="#A4D45E"/>
<rect x="351.41" y="629.59" width="23.39" height="11.689" fill="#A4D45E"/>
<rect x="374.80" y="629.59" width="23.39" height="11.689" fill="#A4D45E"/>
<rect x="140.90" y="641.28" width="23.39" height="11.689" fill="#5F7F37"/>
<rect x="164.29" y="641.28" width="23.39" height="11.689" fill="#5F7F37"/>
<rect x="187.68" y="641.28" width="23.39" height="11.689" fill="#5F7F37"/>
<rect x="211.07" y="641.28" width="23.39" height="11.689" fill="#5F7F37"/>
<rect x="234.46" y="641.28" width="23.39" height="11.689" fill="#5F7F37"/>
<rect x="257.85" y="641.28" width="23.39" height="11.689" fill="#5F7F37"/>
<rect x="281.24" y="641.28" width="23.39" height="11.689" fill="#5F7F37"/>
<rect x="304.63" y="641.28" width="23.39" height="11.689" fill="#5F7F37"/>
<rect x="328.02" y="641.28" width="23.39" height="11.689" fill="#5F7F37"/>
<rect x="351.41" y="641.28" width="23.39" height="11.689" fill="#5F7F37"/>
<rect x="374.80" y="641.28" width="23.39" height="11.689" fill="#5F7F37"/>
<rect x="140.90" y="652.97" width="23.39" height="11.689" fill="#63853A"/>
<rect x="164.29" y="652.97" width="23.39" height="11.689" fill="#63853A"/>
<rect x="187.68" y="652.97" width="23.39" height="11.689" fill="#63853A"/>
<rect x="211.07" y="652.97" width="23.39" height="11.689" fill="#63853A"/>
<rect x="234.46" y="652.97" width="23.39" height="11.689" fill="#63853A"/>
<rect x="257.85" y="652.97" width="23.39" height="11.689" fill="#63853A"/>
<rect x="281.24" y="652.97" width="23.39" height="11.689" fill="#63853A"/>
<rect x="304.63" y="652.97" width="23.39" height="11.689" fill="#63853A"/>
<rect x="328.02" y="652.97" width="23.39" height="11.689" fill="#63853A"/>
<rect x="351.41" y="652.97" width="23.39" height="11.689" fill="#63853A"/>
<rect x="374.80" y="652.97" width="23.39" height="11.689" fill="#63853A"/>
<rect x="140.90" y="664.66" width="23.39" height="11.689" fill="#63853A"/>
<rect x="164.29" y="664.66" width="23.39" height="11.689" fill="#63853A"/>
<rect x="187.68" y="664.66" width="23.39" height="11.689" fill="#63853A"/>
<rect x="211.07" y="664.66" width="23.39" height="11.689" fill="#63853A"/>
<rect x="234.46" y="664.66" width="23.39" height="11.689" fill="#63853A"/>
<rect x="257.85" y="664.66" width="23.39" height="11.689" fill="#63853A"/>
<rect x="281.24" y="664.66" width="23.39" height="11.689" fill="#63853A"/>
<rect x="304.63" y="664.66" width="23.39" height="11.689" fill="#63853A"/>
<rect x="328.02" y="664.66" width="23.39" height="11.689" fill="#63853A"/>
<rect x="351.41" y="664.66" width="23.39" height="11.689" fill="#63853A"/>
<rect x="374.80" y="664.66" width="23.39" height="11.689" fill="#63853A"/>
<rect x="140.90" y="676.35" width="23.39" height="11.689" fill="#71973F"/>
<rect x="164.29" y="676.35" width="23.39" height="11.689" fill="#71973F"/>
<rect x="187.68" y="676.35" width="23.39" height="11.689" fill="#71973F"/>
<rect x="211.07" y="676.35" width="23.39" height="11.689" fill="#71973F"/>
<rect x="234.46" y="676.35" width="23.39" height="11.689" fill="#71973F"/>
<rect x="257.85" y="676.35" width="23.39" height="11.689" fill="#71973F"/>
<rect x="281.24" y="676.35" width="23.39" height="11.689" fill="#71973F"/>
<rect x="304.63" y="676.35" width="23.39" height="11.689" fill="#71973F"/>
<rect x="328.02" y="676.35" width="23.39" height="11.689" fill="#71973F"/>
<rect x="351.41" y="676.35" width="23.39" height="11.689" fill="#71973F"/>
<rect x="374.80" y="676.35" width="23.39" height="11.689" fill="#71973F"/>
<rect x="140.90" y="688.04" width="23.39" height="11.689" fill="#6F953F"/>
<rect x="164.29" y="688.04" width="23.39" height="11.689" fill="#6F953F"/>
<rect x="187.68" y="688.04" width="23.39" height="11.689" fill="#6F953F"/>
<rect x="211.07" y="688.04" width="23.39" height="11.689" fill="#6F953F"/>
<rect x="234.46" y="688.04" width="23.39" height="11.689" fill="#6F953F"/>
<rect x="257.85" y="688.04" width="23.39" height="11.689" fill="#6F953F"/>
<rect x="281.24" y="688.04" width="23.39" height="11.689" fill="#6F953F"/>
<rect x="304.63" y="688.04" width="23.39" height="11.689" fill="#6F953F"/>
<rect x="328.02" y="688.04" width="23.39" height="11.689" fill="#6F953F"/>
<rect x="351.41" y="688.04" width="23.39" height="11.689" fill="#6F953F"/>
<rect x="374.80" y="688.04" width="23.39" height="11.689" fill="#6F953F"/>
<rect x="140.90" y="699.73" width="23.39" height="11.689" fill="#3F5425"/>
<rect x="164.29" y="699.73" width="23.39" height="11.689" fill="#3F5425"/>
<rect x="187.68" y="699.73" width="23.39" height="11.689" fill="#3F5425"/>
<rect x="211.07" y="699.73" width="23.39" height="11.689" fill="#3F5425"/>
<rect x="234.46" y="699.73" width="23.39" height="11.689" fill="#3F5425"/>
<rect x="257.85" y="699.73" width="23.39" height="11.689" fill="#3F5425"/>
<rect x="281.24" y="699.73" width="23.39" height="11.689" fill="#3F5425"/>
<rect x="304.63" y="699.73" width="23.39" height="11.689" fill="#3F5425"/>
<rect x="328.02" y="699.73" width="23.39" height="11.689" fill="#3F5425"/>
<rect x="351.41" y="699.73" width="23.39" height="11.689" fill="#3F5425"/>
<rect x="374.80" y="699.73" width="23.39" height="11.689" fill="#3F5425"/>
<rect x="140.90" y="711.42" width="23.39" height="11.689" fill="#4C652C"/>
<rect x="164.29" y="711.42" width="23.39" height="11.689" fill="#4C652C"/>
<rect x="187.68" y="711.42" width="23.39" height="11.689" fill="#4C652C"/>
<rect x="211.07" y="711.42" width="23.39" height="11.689" fill="#4C652C"/>
<rect x="234.46" y="711.42" width="23.39" height="11.689" fill="#4C652C"/>
<rect x="257.85" y="711.42" width="23.39" height="11.689" fill="#4C652C"/>
<rect x="281.24" y="711.42" width="23.39" height="11.689" fill="#4C652C"/>
<rect x="304.63" y="711.42" width="23.39" height="11.689" fill="#4C652C"/>
<rect x="328.02" y="711.42" width="23.39" height="11.689" fill="#4C652C"/>
<rect x="351.41" y="711.42" width="23.39" height="11.689" fill="#4C652C"/>
<rect x="374.80" y="711.42" width="23.39" height="11.689" fill="#4C652C"/>
</g>
<g font-size="10.6" font-style="italic" fill="#4D4D4D" text-anchor="end">
<text x="134.2" y="102.09">sugE</text>
<text x="134.2" y="113.78">mdtK.ydhE</text>
<text x="134.2" y="125.47">zntA.yhhO</text>
<text x="134.2" y="137.16">terA</text>
<text x="134.2" y="148.85">ncrB</text>
<text x="134.2" y="160.54">ncrC</text>
<text x="134.2" y="172.23">ncrA</text>
<text x="134.2" y="183.92">sdeB</text>
<text x="134.2" y="195.61">arsR</text>
<text x="134.2" y="207.30">arsB</text>
<text x="134.2" y="218.98">pmrA</text>
<text x="134.2" y="230.67">corC</text>
<text x="134.2" y="242.36">actP.yjcG</text>
<text x="134.2" y="254.05">phoB</text>
<text x="134.2" y="265.74">pstS</text>
<text x="134.2" y="277.43">pstA</text>
<text x="134.2" y="289.12">pstC</text>
<text x="134.2" y="300.81">mdtC.yegO</text>
<text x="134.2" y="312.50">yfeC</text>
<text x="134.2" y="324.19">znuC.yebM</text>
<text x="134.2" y="335.87">arsC</text>
<text x="134.2" y="347.56">mdtG.yceE</text>
<text x="134.2" y="359.25">acrB</text>
<text x="134.2" y="370.94">modB</text>
<text x="134.2" y="382.63">cpxA</text>
<text x="134.2" y="394.32">znuB.yebI</text>
<text x="134.2" y="406.01">glpF</text>
<text x="134.2" y="417.70">ibpA</text>
<text x="134.2" y="429.39">emrB</text>
<text x="134.2" y="441.08">mdtB.yegN</text>
<text x="134.2" y="452.76">mntH.yfeP</text>
<text x="134.2" y="464.45">cutE.lnt</text>
<text x="134.2" y="476.14">modC</text>
<text x="134.2" y="487.83">nfsA</text>
<text x="134.2" y="499.52">tolC</text>
<text x="134.2" y="511.21">yfeB</text>
<text x="134.2" y="522.90">yfeA</text>
<text x="134.2" y="534.59">baeR</text>
<text x="134.2" y="546.28">pitA</text>
<text x="134.2" y="557.97">cueR.ybbI</text>
<text x="134.2" y="569.65">emrR</text>
<text x="134.2" y="581.34">cepA</text>
<text x="134.2" y="593.03">mgtA</text>
<text x="134.2" y="604.72">ruvB</text>
<text x="134.2" y="616.41">smdB</text>
<text x="134.2" y="628.10">iclR</text>
<text x="134.2" y="639.79">smdA</text>
<text x="134.2" y="651.48">fabI</text>
<text x="134.2" y="663.17">cpxR</text>
<text x="134.2" y="674.86">oxyRkp</text>
<text x="134.2" y="686.54">sodA</text>
<text x="134.2" y="698.23">corA</text>
<text x="134.2" y="709.92">rpoS</text>
<text x="134.2" y="721.61">pstB</text>
</g>
<g font-size="12.65" fill="#4D4D4D" text-anchor="end">
<text transform="translate(161.79,729.8) rotate(-90)">Dda_A622S1A17</text>
<text transform="translate(185.19,729.8) rotate(-90)">Dda_ICMP9290</text>
<text transform="translate(208.57,729.8) rotate(-90)">CCRMP144</text>
<text transform="translate(231.97,729.8) rotate(-90)">CCRMP250</text>
<text transform="translate(255.35,729.8) rotate(-90)">Dda_DSM18020</text>
<text transform="translate(278.75,729.8) rotate(-90)">Dda_CZ1501</text>
<text transform="translate(302.13,729.8) rotate(-90)">Dda_3937</text>
<text transform="translate(325.53,729.8) rotate(-90)">Dda_BI31</text>
<text transform="translate(348.92,729.8) rotate(-90)">Dda_M23</text>
<text transform="translate(372.31,729.8) rotate(-90)">Dda_NCPPB2976</text>
<text transform="translate(395.69,729.8) rotate(-90)">Dda_FZ06</text>
</g>
<defs><linearGradient id="lg" x1="0" y1="1" x2="0" y2="0"><stop offset="0" stop-color="#F5F5DC"/><stop offset="0.22" stop-color="#C6F66C"/><stop offset="0.5" stop-color="#B3E361"/><stop offset="0.75" stop-color="#9FCC58"/><stop offset="0.86" stop-color="#7E9F46"/><stop offset="0.94" stop-color="#485C2B"/><stop offset="0.975" stop-color="#1C2511"/><stop offset="1" stop-color="#080A05"/></linearGradient></defs>
<rect x="17.4" y="376.2" width="18" height="90" fill="url(#lg)"/>
<g stroke="#fff" stroke-width="0.6">
<path d="M17.4 398.8h3.6M31.8 398.8h3.6"/>
<path d="M17.4 421.2h3.6M31.8 421.2h3.6"/>
<path d="M17.4 443.6h3.6M31.8 443.6h3.6"/>
</g>
<text x="7" y="358.8" font-size="11.55" fill="#000">Identity (%)</text>
<g font-size="9" fill="#000">
<text x="41.8" y="379.6">100</text>
<text x="41.8" y="402.0">75</text>
<text x="41.8" y="424.4">50</text>
<text x="41.8" y="446.8">25</text>
<text x="41.8" y="469.2">0</text>
</g>
<path d="M151.5 76.5V8.5H223.5V25.5M174.5 76.5V25.5H272.5V28.5M232.5 43.5V28.5H312.5V42.5M209.5 76.5V43.5H255.5V73.5M197.5 76.5H221.5M244.5 76.5V73.5H267.5V76.5M290.5 76.5V42.5H333.5V52.5M314.5 76.5V52.5H354.5V74.5M337.5 76.5V74.5H371.5V75.5M360.5 75.5H383.5" fill="none" stroke="#000" stroke-width="1.1"/>
<path d="M415.5 95.5H457.5V107.5H415.5M415.5 119.5H416.5V131.5H415.5M416.5 125.5H459.5V101.5M459.5 113.5H464.5V158.5H417.5M415.5 143.5V154.5 M415.5 148.5H417.5V166.5H415.5M464.5 135.5H471.5V184.5H416.5M415.5 178.5H416.5V190.5H415.5M471.5 159.5H497.5V201.5H415.5M497.5 181.5H538.5V575.5H446.5M416.5 213.5V225.5M416.5 219.5H417.5V237.5H415.5M417.5 228.5H418.5V253.5H416.5 M416.5 249.5V260.5M418.5 241.5H421.5V278.5H417.5 M415.5 272.5H417.5V284.5H415.5M421.5 260.5H428.5V401.5H421.5M428.5 330.5H436.5V577.5H422.5M436.5 454.5H446.5V695.5H423.5M415.5 296.5V319.5 M417.5 309.5V330.5 M418.5 320.5V363.5H421.5 M415.5 343.5V355.5 M419.5 341.5V359.5M415.5 366.5V378.5 M415.5 390.5H421.5 M421.5 365.5V438.5M415.5 402.5V425.5 M417.5 416.5V437.5 M416.5 427.5H419.5V436.5 M419.5 438.5V448.5H415.5M415.5 460.5V484.5 M417.5 474.5V503.5 M416.5 496.5V507.5 M419.5 503.5V530.5H422.5V624.5H419.5 M415.5 519.5H419.5M415.5 532.5V567.5 M419.5 530.5V556.5H416.5M415.5 579.5V613.5 M417.5 596.5V625.5 M419.5 611.5V637.5H415.5M415.5 649.5V661.5 M416.5 663.5H417.5V690.5H416.5 M415.5 672.5H417.5 M415.5 684.5H416.5V696.5H415.5M417.5 677.5H423.5V714.5H416.5 M415.5 708.5H416.5V720.5H415.5" fill="none" stroke="#000" stroke-width="1.05"/>
<path d="M137.2 10.4h2.4M137.2 26.9h2.4M137.2 43.5h2.4M137.2 60.1h2.4M137.2 76.7h2.4M197.7 80.6v2.4M267.5 80.6v2.4M337.3 80.6v2.4M406.4 260.8h2.6M406.4 496.2h2.6M406.4 731.8h2.6M415.5 750.6v2.8M457.4 750.6v2.8M499.3 750.6v2.8M541.2 750.6v2.8" fill="none" stroke="#2a2a2a" stroke-width="1"/>
</svg></body></html>
